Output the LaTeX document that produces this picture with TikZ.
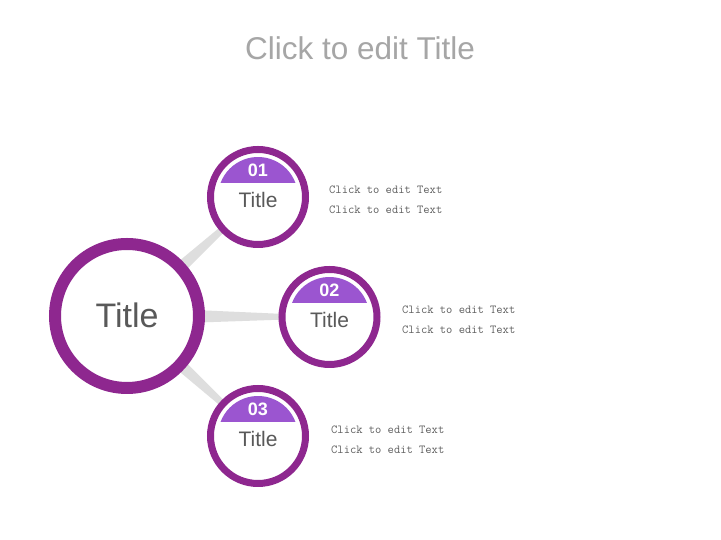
\documentclass[tikz,border=0pt]{standalone}
\usepackage{fontspec}
\setmainfont{Liberation Sans}
\usetikzlibrary{calc}
\definecolor{ringc}{HTML}{8E278F}
\definecolor{segc}{HTML}{9B55D0}
\definecolor{titlegray}{HTML}{A6A6A6}
\definecolor{textgray}{HTML}{595959}
\definecolor{bodygray}{HTML}{606060}
\definecolor{barc}{HTML}{DEDEDE}
\tikzset{
  bigring/.style={circle, draw=ringc, line width=12pt, fill=white, minimum size=144pt, inner sep=0pt},
  smallring/.style={circle, draw=ringc, line width=7pt, fill=white, minimum size=95pt, inner sep=0pt},
  bar/.style={fill=barc},
  seg/.style={fill=segc},
  numtxt/.style={anchor=base, text=white, font=\fontsize{18}{20}\selectfont\bfseries},
  smalltitle/.style={anchor=base, text=textgray, font=\fontsize{21}{24}\selectfont},
  bodytxt/.style={anchor=base west, text=bodygray, font=\ttfamily\fontsize{12.2}{14}\selectfont, inner sep=0pt}
}
\begin{document}
\begin{tikzpicture}[x=1pt,y=1pt]
\useasboundingbox (0,0) rectangle (721,540);
\fill[white] (0,0) rectangle (721,540);
\coordinate (b) at (127,224);
\coordinate (c1) at (258,343);
\coordinate (c2) at (329.5,223);
\coordinate (c3) at (258,104);
% connectors
\foreach \c in {c1,c2,c3}{
  \fill[bar] ($(b)!9pt!90:(\c)$) -- ($(\c)!1pt!-90:(b)$) -- ($(\c)!1pt!90:(b)$) -- ($(b)!9pt!-90:(\c)$) -- cycle;
}
% header
\node[anchor=base, text=titlegray, font=\fontsize{31.5}{36}\selectfont] (head) at (360,480) {Click to edit Title};
% big circle
\node[bigring] (big) at (b) {};
\node[anchor=base, text=textgray, font=\fontsize{34}{40}\selectfont] (bigt) at (127,212) {Title};
% small circles
\node[smallring] (n1) at (c1) {};
\node[smallring] (n2) at (c2) {};
\node[smallring] (n3) at (c3) {};
\fill[seg] ($(c1)+(20.5:40)$) arc[start angle=20.5, end angle=159.5, radius=40] -- cycle;
\fill[seg] ($(c2)+(20.5:40)$) arc[start angle=20.5, end angle=159.5, radius=40] -- cycle;
\fill[seg] ($(c3)+(20.5:40)$) arc[start angle=20.5, end angle=159.5, radius=40] -- cycle;
\node[numtxt] (k1) at ($(c1)+(0,20)$) {01};
\node[numtxt] (k2) at ($(c2)+(0,20)$) {02};
\node[numtxt] (k3) at ($(c3)+(0,20)$) {03};
\node[smalltitle] (t1) at ($(c1)+(0,-11)$) {Title};
\node[smalltitle] (t2) at ($(c2)+(0,-11)$) {Title};
\node[smalltitle] (t3) at ($(c3)+(0,-11)$) {Title};
% texts
\node[bodytxt] (a1) at (329,346) {Click to edit Text};
\node[bodytxt] (a2) at (329,326) {Click to edit Text};
\node[bodytxt] (b1) at (402,226) {Click to edit Text};
\node[bodytxt] (b2) at (402,206) {Click to edit Text};
\node[bodytxt] (d1) at (331,106) {Click to edit Text};
\node[bodytxt] (d2) at (331,86) {Click to edit Text};
\end{tikzpicture}
\end{document}
